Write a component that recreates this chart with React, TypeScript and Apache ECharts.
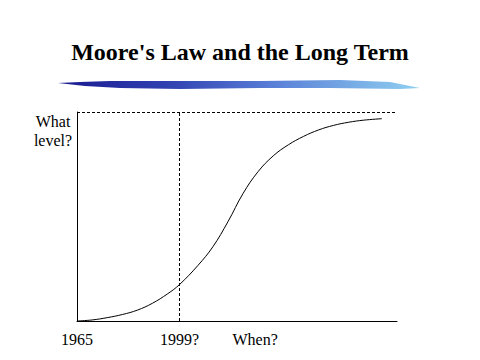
import React, { useEffect, useRef } from "react";
import * as echarts from "echarts";

const TITLE = "Moore's Law and the Long Term";
const years = [1965, 1970, 1975, 1980, 1985, 1990, 1995, 1999, 2005, 2010, 2015, 2020, 2025, 2030, 2035, 2040, 2045, 2050, 2055, 2060, 2066];
const levels = [0, 0.5, 1.6, 3.1, 5.2, 8.5, 13, 17.5, 26.5, 35.5, 47.5, 61, 71.5, 79, 84.3, 88.3, 91.4, 93.6, 95.1, 96.1, 96.8];
const xTickValues = [1965, 1999, 2024];
const xTickLabels = ["1965", "1999?", "When?"];
const yTickValues = [100];
const yTickLabels = ["What\nlevel?"];
const markYear = 1999;
const markLevel = 100;

const FONT = "'Liberation Serif', 'Times New Roman', serif";

export default function App() {
  const ref = useRef<HTMLDivElement>(null);
  useEffect(() => {
    if (!ref.current) return;
    const chart = echarts.init(ref.current, null, { renderer: "svg" });
    chart.setOption({
      animation: false,
      backgroundColor: "#ffffff",
      title: {
        text: TITLE,
        left: "center",
        top: 35,
        textStyle: { fontFamily: FONT, fontWeight: "bold", fontSize: 24, color: "#000" },
      },
      graphic: [
        {
          type: "polygon",
          shape: {
            points: [
              [58, 83], [80, 82], [110, 81], [180, 81], [260, 81], [340, 80], [390, 82], [420, 88],
              [400, 89], [330, 88], [260, 88], [180, 89], [120, 88], [85, 86],
            ],
          },
          style: {
            fill: new echarts.graphic.LinearGradient(0, 0, 1, 0, [
              { offset: 0, color: "#1a1a90" },
              { offset: 0.3, color: "#3040b0" },
              { offset: 0.6, color: "#5a80d8" },
              { offset: 1, color: "#90d0f0" },
            ]),
          },
        },
      ],
      grid: { left: 77, right: 83, top: 112, bottom: 39, containLabel: false },
      xAxis: {
        type: "value",
        min: 1965,
        max: 2071,
        splitLine: { show: false },
        axisLine: { show: true, onZero: false, lineStyle: { color: "#000", width: 1 } },
        axisTick: { show: false },
        axisLabel: {
          customValues: xTickValues,
          formatter: (v: number) => xTickLabels[xTickValues.indexOf(v)] ?? "",
          fontFamily: FONT,
          fontSize: 16,
          color: "#000",
          margin: 10,
        },
      },
      yAxis: {
        type: "value",
        min: 0,
        max: 100,
        splitLine: { show: false },
        axisLine: { show: true, lineStyle: { color: "#000", width: 1 } },
        axisTick: { show: false },
        axisLabel: {
          customValues: yTickValues,
          formatter: (v: number) => yTickLabels[yTickValues.indexOf(v)] ?? "",
          fontFamily: FONT,
          fontSize: 16,
          lineHeight: 19,
          color: "#000",
          align: "center",
          verticalAlign: "top",
          margin: 24,
        },
      },
      series: [
        {
          type: "line",
          data: years.map((y, i) => [y, levels[i]]),
          smooth: 0.4,
          showSymbol: false,
          lineStyle: { color: "#000", width: 1 },
          markLine: {
            silent: true,
            symbol: "none",
            label: { show: false },
            lineStyle: { color: "#000", width: 1, type: [3, 2] },
            data: [{ xAxis: markYear }, { yAxis: markLevel }],
          },
        },
      ],
    });
    return () => chart.dispose();
  }, []);
  return <div ref={ref} style={{ width: 480, height: 360, position: "absolute", left: 0, top: 0 }} />;
}
